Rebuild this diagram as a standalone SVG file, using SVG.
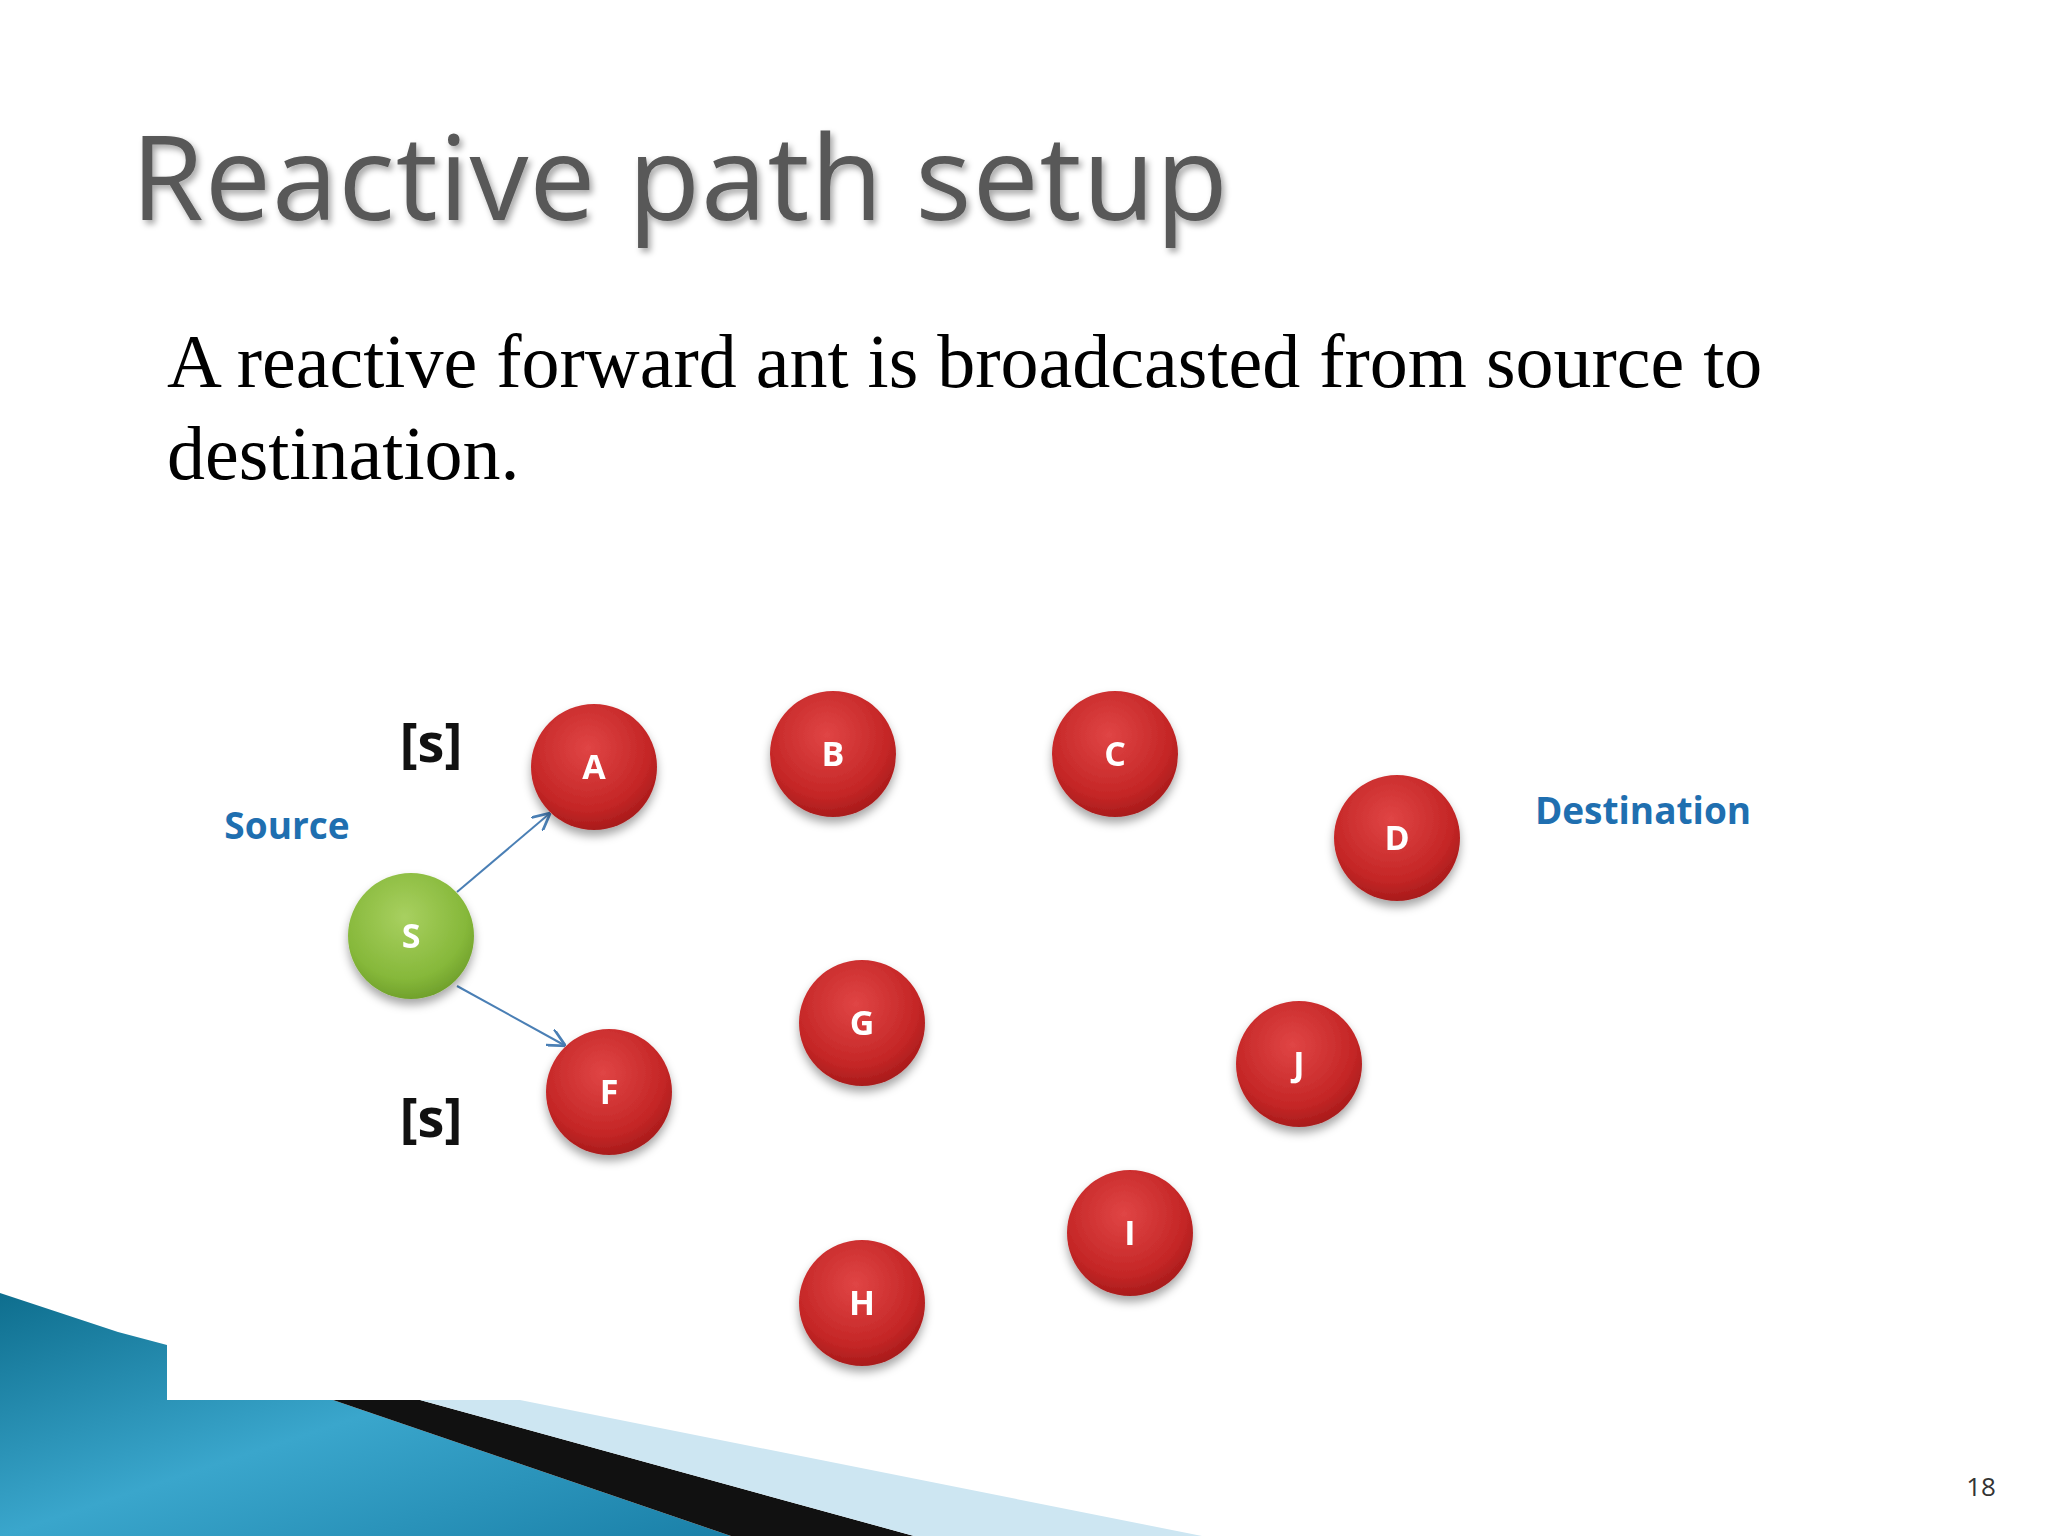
<svg xmlns="http://www.w3.org/2000/svg" width="2048" height="1536" viewBox="0 0 2048 1536">
<defs>
<radialGradient id="red" cx="0.45" cy="0.35" r="0.7"><stop offset="0" stop-color="#e04545"/><stop offset="0.7" stop-color="#c42626"/><stop offset="1" stop-color="#a01818"/></radialGradient>
<radialGradient id="green" cx="0.45" cy="0.35" r="0.7"><stop offset="0" stop-color="#a8d060"/><stop offset="0.7" stop-color="#86b83a"/><stop offset="1" stop-color="#6a9a28"/></radialGradient>
<linearGradient id="blue" x1="0" y1="0" x2="1" y2="1"><stop offset="0" stop-color="#0e6e8e"/><stop offset="0.5" stop-color="#3aa6cc"/><stop offset="1" stop-color="#1a80a8"/></linearGradient>
<filter id="sh" x="-30%" y="-30%" width="160%" height="170%"><feDropShadow dx="0" dy="6" stdDeviation="5" flood-color="#000" flood-opacity="0.35"/></filter>
<filter id="tsh"><feDropShadow dx="3" dy="4" stdDeviation="3" flood-color="#000" flood-opacity="0.35"/></filter>
<marker id="ar" viewBox="0 0 10 10" refX="9" refY="5" markerWidth="9" markerHeight="9" orient="auto"><path d="M0,0 L10,5 L0,10" fill="none" stroke="#4a7fb5" stroke-width="1.5"/></marker>
<style>
.node{filter:url(#sh)}
.lbl{font-family:"Open Sans","Liberation Sans",sans-serif;font-weight:bold;font-size:34px;fill:#fff;text-anchor:middle}
.br{font-family:"Open Sans","Liberation Sans",sans-serif;font-weight:bold;font-size:54px;fill:#111;text-anchor:middle}
.bl{font-family:"Open Sans","Liberation Sans",sans-serif;font-weight:bold;font-size:37px;fill:#1f6fb0;text-anchor:middle}
</style>
</defs>
<rect width="2048" height="1536" fill="#fff"/>
<polygon points="0,1293 118,1332 167,1345 167,1400 333,1400 731,1536 0,1536" fill="url(#blue)"/>
<polygon points="333,1400 420,1400 914,1536 731,1536" fill="#111"/>
<polygon points="420,1400 520,1400 1202,1536 914,1536" fill="#cde6f2"/>
<text x="131" y="220" font-family="Open Sans, Liberation Sans, sans-serif" font-size="118" fill="#595959" filter="url(#tsh)" textLength="1097">Reactive path setup</text>
<text x="167" y="387" font-family="Liberation Serif, serif" font-size="76" fill="#000">A reactive forward ant is broadcasted from source to</text>
<text x="167" y="479" font-family="Liberation Serif, serif" font-size="76" fill="#000">destination.</text>
<g id="connectors" stroke="#4a7fb5" stroke-width="2" fill="none" marker-end="url(#ar)">
<line x1="457" y1="892" x2="549" y2="814"/>
<line x1="457" y1="986" x2="564" y2="1045"/>
</g>
<g id="S" class="node"><circle cx="411" cy="936" r="63" fill="url(#green)"/><text class="lbl" x="411" y="948">S</text></g>
<g id="A" class="node"><circle cx="594" cy="767" r="63" fill="url(#red)"/><text class="lbl" x="594" y="779">A</text></g>
<g id="B" class="node"><circle cx="833" cy="754" r="63" fill="url(#red)"/><text class="lbl" x="833" y="766">B</text></g>
<g id="C" class="node"><circle cx="1115" cy="754" r="63" fill="url(#red)"/><text class="lbl" x="1115" y="766">C</text></g>
<g id="D" class="node"><circle cx="1397" cy="838" r="63" fill="url(#red)"/><text class="lbl" x="1397" y="850">D</text></g>
<g id="G" class="node"><circle cx="862" cy="1023" r="63" fill="url(#red)"/><text class="lbl" x="862" y="1035">G</text></g>
<g id="F" class="node"><circle cx="609" cy="1092" r="63" fill="url(#red)"/><text class="lbl" x="609" y="1104">F</text></g>
<g id="J" class="node"><circle cx="1299" cy="1064" r="63" fill="url(#red)"/><text class="lbl" x="1299" y="1076">J</text></g>
<g id="I" class="node"><circle cx="1130" cy="1233" r="63" fill="url(#red)"/><text class="lbl" x="1130" y="1245">I</text></g>
<g id="H" class="node"><circle cx="862" cy="1303" r="63" fill="url(#red)"/><text class="lbl" x="862" y="1315">H</text></g>
<text class="br" x="431" y="762">[s]</text>
<text class="br" x="431" y="1137">[s]</text>
<text class="bl" x="287" y="839">Source</text>
<text class="bl" x="1643" y="824">Destination</text>
<text x="1981" y="1496" font-family="Open Sans, Liberation Sans, sans-serif" font-size="26" fill="#333" text-anchor="middle">18</text>
</svg>
